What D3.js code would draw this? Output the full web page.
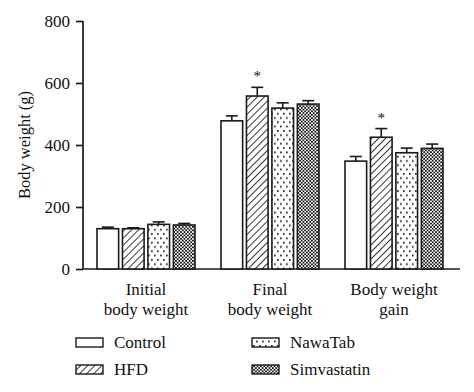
<!DOCTYPE html>
<html><head><meta charset="utf-8">
<script src="https://cdn.jsdelivr.net/npm/d3@7"></script>
<style>body{margin:0;background:#fff}svg{display:block}svg text{font-family:'Liberation Serif','Times New Roman',serif}</style>
</head><body>
<script>
const categories = [["Initial","body weight"],["Final","body weight"],["Body weight","gain"]];
const groups = ["Control","HFD","NawaTab","Simvastatin"];
const means = {
  Control:     [130, 478, 348],
  HFD:         [130, 558, 425],
  NawaTab:     [144, 519, 375],
  Simvastatin: [142, 532, 389]
};
const errors = {
  Control:     [5, 16, 15],
  HFD:         [3, 28, 28],
  NawaTab:     [8, 17, 15],
  Simvastatin: [5, 11, 14]
};
const significant = [[1,"HFD"],[2,"HFD"]];
const yTicks = [0,200,400,600,800];

const W=474,H=392;
const svg=d3.select("body").append("svg").attr("width",W).attr("height",H);
const defs=svg.append("defs");
const p1=defs.append("pattern").attr("id","hatch").attr("patternUnits","userSpaceOnUse").attr("width",5).attr("height",5).attr("patternTransform","rotate(45)");
p1.append("rect").attr("width",5).attr("height",5).attr("fill","#fff");
p1.append("line").attr("x1",0).attr("y1",0).attr("x2",0).attr("y2",5).attr("stroke","#111").attr("stroke-width",1.7);
const p2=defs.append("pattern").attr("id","dots").attr("patternUnits","userSpaceOnUse").attr("width",6).attr("height",8.6);
p2.append("rect").attr("width",6).attr("height",8.6).attr("fill","#fff");
p2.append("rect").attr("x",1).attr("y",1).attr("width",1.7).attr("height",1.7).attr("fill","#222");
p2.append("rect").attr("x",4).attr("y",5.3).attr("width",1.7).attr("height",1.7).attr("fill","#222");
const p3=defs.append("pattern").attr("id","check").attr("patternUnits","userSpaceOnUse").attr("width",3.4).attr("height",3.4);
p3.append("rect").attr("width",3.4).attr("height",3.4).attr("fill","#fff");
p3.append("rect").attr("width",1.7).attr("height",1.7).attr("fill","#111");
p3.append("rect").attr("x",1.7).attr("y",1.7).attr("width",1.7).attr("height",1.7).attr("fill","#111");
const fills={Control:"#fff",HFD:"url(#hatch)",NawaTab:"url(#dots)",Simvastatin:"url(#check)"};

const font="'Liberation Serif','Times New Roman',serif";
const x0=d3.scaleBand().domain(d3.range(categories.length)).range([84,456]);
const x1=d3.scaleBand().domain(groups).range([-49,49]).paddingInner(0.15);
const y=d3.scaleLinear().domain([0,800]).range([269,21]);

const yAxis=svg.append("g").attr("transform","translate(83,0)")
  .call(d3.axisLeft(y).tickValues(yTicks).tickSize(7).tickPadding(6));
yAxis.attr("font-family",font).attr("font-size",17);
yAxis.select(".domain").attr("stroke","#1a1a1a").attr("stroke-width",1.7).attr("d","M0,"+y(800)+"V"+y(0));
yAxis.selectAll(".tick line").attr("stroke","#1a1a1a").attr("stroke-width",1.7);
yAxis.selectAll("text").attr("fill","#111").style("font-family",font).style("font-size","17px");
svg.append("line").attr("x1",83).attr("x2",460).attr("y1",y(0)).attr("y2",y(0)).attr("stroke","#1a1a1a").attr("stroke-width",1.7);

svg.append("text").attr("transform","translate(30,"+((y(0)+y(800))/2)+") rotate(-90)")
  .attr("text-anchor","middle").attr("font-family",font).attr("font-size",16.5).attr("fill","#111").text("Body weight (g)");

const data=[];
categories.forEach((c,i)=>groups.forEach(g=>data.push({i,g,v:means[g][i],e:errors[g][i]})));
const gBars=svg.append("g");
data.forEach(d=>{
  const cx=x0(d.i)+x0.bandwidth()/2+x1(d.g);
  const bw=x1.bandwidth();
  const xm=cx+bw/2;
  gBars.append("line").attr("x1",xm).attr("x2",xm).attr("y1",y(d.v)).attr("y2",y(d.v+d.e)).attr("stroke","#1a1a1a").attr("stroke-width",1.6);
  gBars.append("line").attr("x1",xm-6).attr("x2",xm+6).attr("y1",y(d.v+d.e)).attr("y2",y(d.v+d.e)).attr("stroke","#1a1a1a").attr("stroke-width",1.6);
  gBars.append("rect").attr("x",cx).attr("y",y(d.v)).attr("width",bw).attr("height",y(0)-y(d.v))
    .attr("fill",fills[d.g]).attr("stroke","#1a1a1a").attr("stroke-width",1.6);
});
significant.forEach(([i,g])=>{
  const xm=x0(i)+x0.bandwidth()/2+x1(g)+x1.bandwidth()/2;
  svg.append("text").attr("x",xm).attr("y",y(means[g][i]+errors[g][i])-6).attr("text-anchor","middle")
    .attr("font-family",font).attr("font-size",15).attr("fill","#111").text("*");
});
categories.forEach((c,i)=>{
  const t=svg.append("text").attr("text-anchor","middle").attr("font-family",font).attr("font-size",17).attr("fill","#111");
  c.forEach((line,k)=>t.append("tspan").attr("x",x0(i)+x0.bandwidth()/2).attr("y",295+k*19.5).text(line));
});
const leg=[{g:"Control",x:76,y:338},{g:"HFD",x:76,y:365},{g:"NawaTab",x:252,y:338},{g:"Simvastatin",x:252,y:365}];
leg.forEach(l=>{
  svg.append("rect").attr("x",l.x).attr("y",l.y).attr("width",27).attr("height",9).attr("fill",fills[l.g]).attr("stroke","#1a1a1a").attr("stroke-width",1.4);
  svg.append("text").attr("x",l.x+38).attr("y",l.y+9.5).attr("font-family",font).attr("font-size",17).attr("fill","#111").text(l.g);
});
</script>
</body></html>
